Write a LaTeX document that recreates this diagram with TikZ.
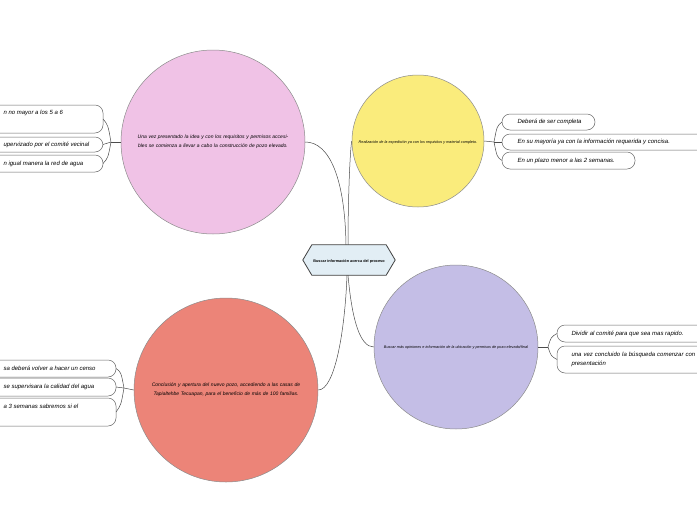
\documentclass[tikz,border=0pt]{standalone}
\usepackage{fontspec}
\setmainfont{Liberation Sans}
\begin{document}
\begin{tikzpicture}[x=1pt,y=-1pt,
 circ/.style={circle,draw=black!45,line width=0.5pt},
 leaf/.style={draw=black!60,rounded corners=8pt,line width=0.5pt,fill=white},
 conn/.style={draw=black!70,line width=0.5pt},
 tx/.style={font=\fontsize{5}{9}\selectfont\itshape},
 bt/.style={font=\fontsize{6}{9}\selectfont\itshape,anchor=west}]
\useasboundingbox (0,0) rectangle (697,520);
\fill[white] (0,0) rectangle (697,520);
% circles
\node[circ,fill={rgb,255:red,240;green,194;blue,230},minimum size=184pt] (pink) at (213,142) {};
\node[tx,text width=170pt,align=center] at (213,142) {Una vez presentado la idea y con los requisitos y permisos accesibles se comienza a llevar a cabo la construcción de pozo elevado.};
\node[circ,fill={rgb,255:red,250;green,236;blue,124},minimum size=132pt] (yel) at (418,141) {};
\node[tx,font=\fontsize{3.8}{6}\selectfont\itshape] at (418,142) {Realización de la expedición ya con los requisitos y material completo.};
\node[circ,fill={rgb,255:red,196;green,190;blue,230},minimum size=164pt] (pur) at (456,347) {};
\node[tx,font=\fontsize{3.8}{6}\selectfont\itshape] at (456,347) {Buscar más opiniones e información de la ubicación y permisos de pozo elevado/final};
\node[circ,fill={rgb,255:red,236;green,132;blue,120},minimum size=184pt] (sal) at (226,390) {};
\node[tx,text width=170pt,align=center] at (226,390) {Conclusión y apertura del nuevo pozo, accediendo a las casas de Tapialtehbe Tecuapan, para el beneficio de más de 100 familias.};
% center
\node[minimum width=92pt,minimum height=30pt,inner sep=0pt] (c) at (349,260) {};
\draw[draw=black!75,line width=0.8pt,fill={rgb,255:red,226;green,238;blue,245}]
 (c.west) -- ([xshift=9pt]c.north west) -- ([xshift=-9pt]c.north east) -- (c.east) -- ([xshift=-9pt]c.south east) -- ([xshift=9pt]c.south west) -- cycle;
\node[font=\fontsize{3.8}{5}\selectfont\bfseries] at (349,261) {Buscar información acerca del proceso};
\draw[conn] ([xshift=-3pt]c.north) .. controls (345,180) and (330,142) .. (pink.east);
\draw[conn] ([xshift=-1pt]c.north) .. controls (348,200) and (350,150) .. (yel.west);
\draw[conn] ([xshift=-2pt]c.south) .. controls (345,330) and (335,390) .. (sal.east);
\draw[conn] ([xshift=-1pt]c.south) .. controls (352,320) and (360,347) .. (pur.west);
% left boxes pink
\draw[leaf] (-20,105) rectangle (103,133);
\node[bt] at (0,113) {n no mayor a los 5 a 6};
\draw[leaf] (-20,137) rectangle (103,152);
\node[bt] at (0,144.5) {upervizado por el comité vecinal};
\draw[leaf] (-20,155) rectangle (103,172);
\node[bt] at (0,163.5) {n igual manera la red de agua};
\coordinate (fp) at (111,142);
\draw[conn] (pink.west) -- (fp);
\draw[conn] (fp) .. controls (108,125) .. (103,119);
\draw[conn] (fp) -- (103,144.5);
\draw[conn] (fp) .. controls (108,158) .. (103,163.5);
% left boxes salmon
\draw[leaf] (-20,360) rectangle (116,377);
\node[bt] at (0,368.5) {sa deberá volver a hacer un censo};
\draw[leaf] (-20,378) rectangle (116,396);
\node[bt] at (0,387) {se supervisara la calidad del agua};
\draw[leaf] (-20,398) rectangle (116,426);
\node[bt] at (0,406) {a 3 semanas sabremos si el};
\coordinate (fs) at (124,388);
\draw[conn] (sal.west) -- (fs);
\draw[conn] (fs) .. controls (121,372) .. (116,368.5);
\draw[conn] (fs) -- (116,387);
\draw[conn] (fs) .. controls (121,405) .. (116,412);
% right boxes yellow
\draw[leaf] (502,114) rectangle (595,130);
\node[bt] at (514,122) {Deberá de ser completa};
\draw[leaf] (502,134) rectangle (717,150);
\node[bt] at (514,142) {En su mayoría ya con la información requerida y concisa.};
\draw[leaf] (502,152) rectangle (635,169);
\node[bt] at (514,160.5) {En un plazo menor a las 2 semanas.};
\coordinate (fy) at (494,142);
\draw[conn] (yel.east) -- (fy);
\draw[conn] (fy) .. controls (497,126) .. (502,122);
\draw[conn] (fy) -- (502,142);
\draw[conn] (fy) .. controls (497,157) .. (502,160.5);
% right boxes purple
\draw[leaf] (557,325) rectangle (717,342);
\node[bt] at (568,333.5) {Dividir al comité para que sea mas rapido.};
\draw[leaf] (557,346) rectangle (717,373);
\node[bt,text width=140pt,align=left] at (568,359.5) {una vez concluido la búsqueda comenzar con la presentación};
\coordinate (fq) at (548,347);
\draw[conn] (pur.east) -- (fq);
\draw[conn] (fq) .. controls (551,337) .. (557,333.5);
\draw[conn] (fq) .. controls (551,356) .. (557,359.5);
\end{tikzpicture}
\end{document}
